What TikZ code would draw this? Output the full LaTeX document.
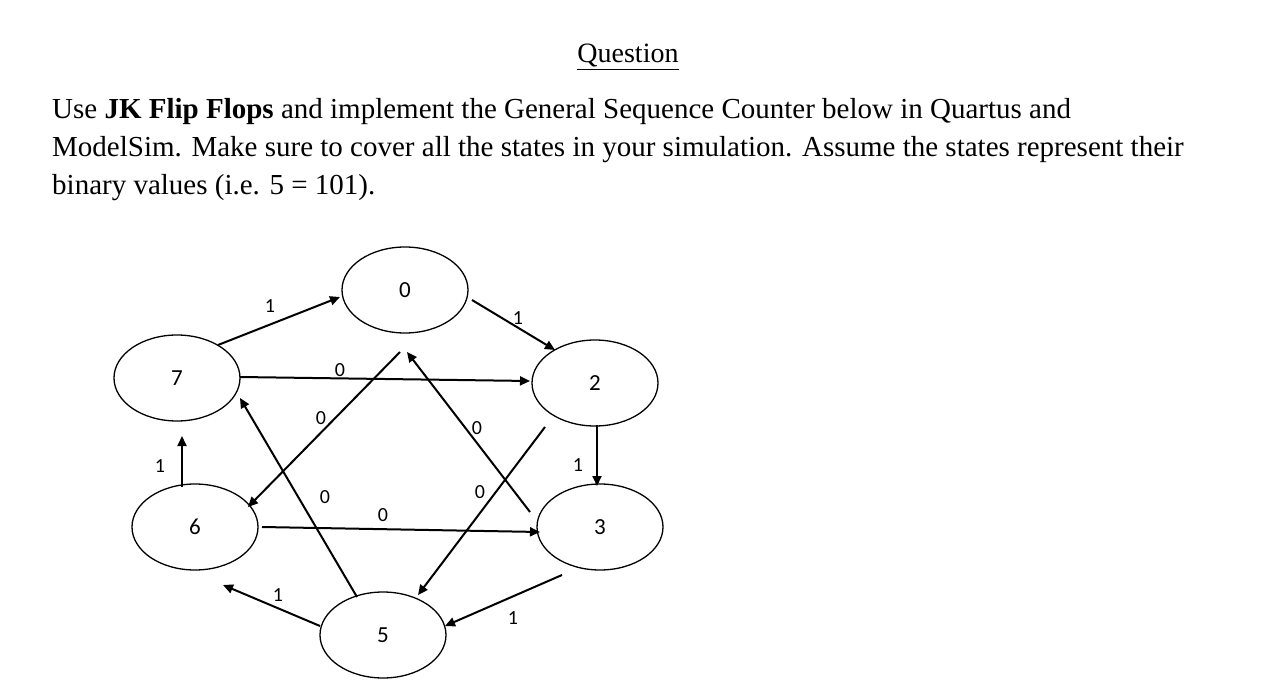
\documentclass[tikz,border=0pt]{standalone}
\usepackage{fontspec}
\setmainfont{Liberation Serif}
\newfontfamily\diag{Carlito}
\usetikzlibrary{arrows.meta,shapes.geometric}
\begin{document}
\begin{tikzpicture}[x=1pt,y=-1pt,
  st/.style={draw,line width=1.3pt,ellipse,minimum width=126pt,minimum height=86pt,font=\diag\fontsize{23}{26}\selectfont},
  ar/.style={line width=2pt,-{Triangle[length=10pt,width=9pt]}},
  lb/.style={font=\diag\fontsize{20}{22}\selectfont,inner sep=0pt}]
\useasboundingbox (0,0) rectangle (1264,698);
\node[font=\fontsize{28}{32}\selectfont,inner sep=0pt] (q) at (628,57) {\underline{Question}};
\node[anchor=north west,align=left,inner sep=0pt,font=\fontsize{29}{38}\selectfont] (t) at (52,98)
{Use \textbf{JK Flip Flops} and implement the General Sequence Counter below in Quartus and\\
ModelSim. Make sure to cover all the states in your simulation. Assume the states represent their\\
binary values (i.e. 5 = 101).};
\node[st] (s0) at (405,290) {0};
\node[st] (s7) at (177,378) {7};
\node[st] (s2) at (595,383) {2};
\node[st] (s6) at (195,527) {6};
\node[st] (s3) at (600,527) {3};
\node[st] (s5) at (383,635) {5};
\coordinate (a1) at (218,345); \coordinate (b1) at (340,297);
\draw[ar] (a1) -- (b1);
\coordinate (a2) at (472,300); \coordinate (b2) at (555,350);
\draw[ar] (a2) -- (b2);
\coordinate (a3) at (240,377); \coordinate (b3) at (530,381);
\draw[ar] (a3) -- (b3);
\coordinate (a4) at (597,425); \coordinate (b4) at (597,486);
\draw[ar] (a4) -- (b4);
\coordinate (a5) at (400,352); \coordinate (b5) at (248,507);
\draw[ar] (a5) -- (b5);
\coordinate (a6) at (530,512); \coordinate (b6) at (407,352);
\draw[ar] (a6) -- (b6);
\coordinate (a7) at (357,597); \coordinate (b7) at (240,398);
\draw[ar] (a7) -- (b7);
\coordinate (a8) at (545,427); \coordinate (b8) at (418,595);
\draw[ar] (a8) -- (b8);
\coordinate (a9) at (262,527); \coordinate (b9) at (540,532);
\draw[ar] (a9) -- (b9);
\coordinate (a10) at (182,487); \coordinate (b10) at (182,436);
\draw[ar] (a10) -- (b10);
\coordinate (a11) at (320,626); \coordinate (b11) at (223,585);
\draw[ar] (a11) -- (b11);
\coordinate (a12) at (562,575); \coordinate (b12) at (445,626);
\draw[ar] (a12) -- (b12);
\node[lb] (l1) at (270,306) {1};
\node[lb] (l2) at (518,318) {1};
\node[lb] (l3) at (340,370) {0};
\node[lb] (l4) at (578,465) {1};
\node[lb] (l5) at (321,418) {0};
\node[lb] (l6) at (477,428) {0};
\node[lb] (l7) at (325,497) {0};
\node[lb] (l8) at (480,492) {0};
\node[lb] (l9) at (383,515) {0};
\node[lb] (l10) at (160,466) {1};
\node[lb] (l11) at (278,595) {1};
\node[lb] (l12) at (513,618) {1};
\end{tikzpicture}
\end{document}
